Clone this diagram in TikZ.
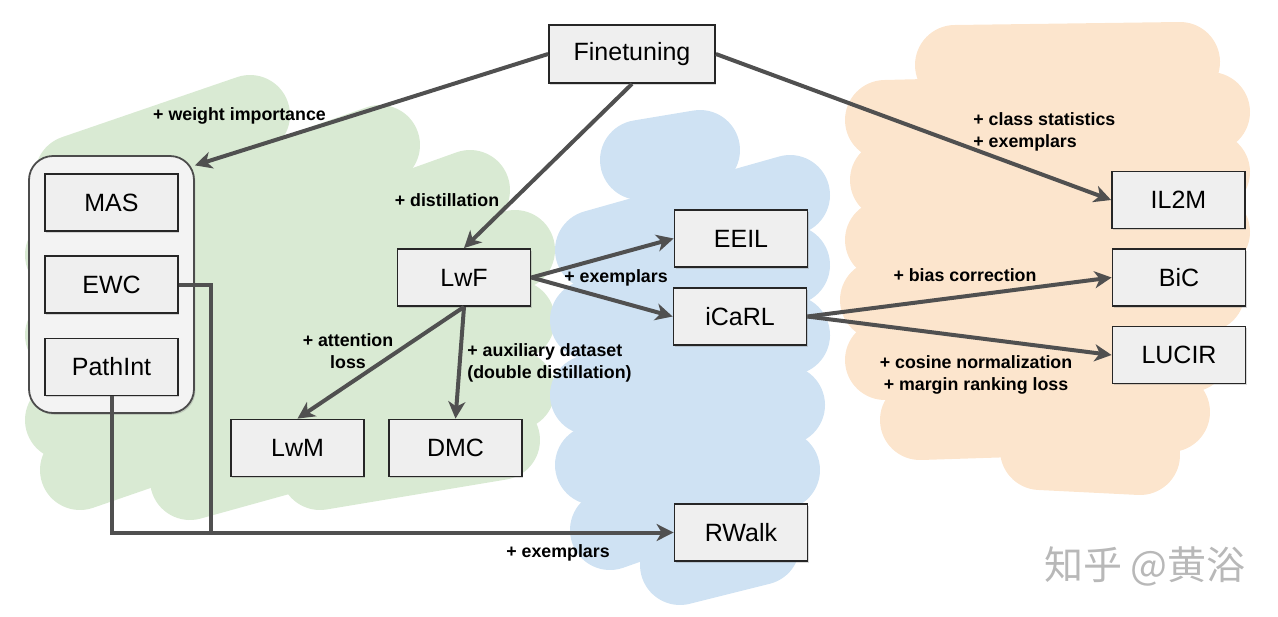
\documentclass[tikz,border=0pt]{standalone}
\usepackage{fontspec}
\setmainfont{Liberation Sans}
\newfontfamily\cjkfont{Noto Sans CJK SC}
\usetikzlibrary{arrows.meta,shadows}
\definecolor{boxfill}{HTML}{EFEFEF}
\definecolor{grpfill}{HTML}{F3F3F3}
\definecolor{arrgray}{HTML}{505050}
\definecolor{blobgreen}{HTML}{D9EAD3}
\definecolor{blobblue}{HTML}{CFE2F3}
\definecolor{blobpeach}{HTML}{FCE5CD}
\definecolor{markgray}{HTML}{B8B8B8}
\begin{document}
\begin{tikzpicture}[>={Stealth[length=8.5pt,width=8.5pt,inset=2.5pt]}, x=0.5pt, y=-0.5pt,
  method/.style={draw=black!85, line width=0.9pt, fill=boxfill, minimum width=66.5pt, minimum height=28.5pt,
    inner sep=0pt, font=\fontsize{12.5}{15}\selectfont, drop shadow={shadow xshift=0.7pt, shadow yshift=-0.9pt, opacity=0.3}},
  group/.style={draw=black!70, line width=0.9pt, fill=grpfill, rounded corners=12pt, minimum width=82.5pt, minimum height=128.5pt,
    drop shadow={shadow xshift=0.7pt, shadow yshift=-0.9pt, opacity=0.3}},
  link/.style={draw=arrgray, line width=2pt, ->},
  tag/.style={font=\bfseries\fontsize{8.9}{11}\selectfont, inner sep=0pt},
  stroke/.style={line width=40pt, line cap=round}]
\useasboundingbox (0,0) rectangle (1278,616);
% background scribbles
\draw[stroke, blobgreen] (75,175)--(250,115);
\draw[stroke, blobgreen] (65,255)--(380,145);
\draw[stroke, blobgreen] (65,335)--(470,190);
\draw[stroke, blobgreen] (65,420)--(515,250);
\draw[stroke, blobgreen] (80,470)--(515,320);
\draw[stroke, blobgreen] (190,480)--(515,390);
\draw[stroke, blobgreen] (320,470)--(500,440);
\draw[stroke, blobblue] (640,160)--(700,150);
\draw[stroke, blobblue] (595,250)--(790,195);
\draw[stroke, blobblue] (590,320)--(790,265);
\draw[stroke, blobblue] (590,395)--(790,335);
\draw[stroke, blobblue] (595,465)--(785,405);
\draw[stroke, blobblue] (610,530)--(780,470);
\draw[stroke, blobblue] (680,565)--(760,545);
\draw[stroke, blobpeach] (955,65)--(1180,62);
\draw[stroke, blobpeach] (885,120)--(1210,112);
\draw[stroke, blobpeach] (890,180)--(1210,172);
\draw[stroke, blobpeach] (885,240)--(1210,232);
\draw[stroke, blobpeach] (880,300)--(1205,292);
\draw[stroke, blobpeach] (885,360)--(1190,352);
\draw[stroke, blobpeach] (920,420)--(1170,412);
\draw[stroke, blobpeach] (1040,450)--(1140,455);
% methods
\node[group] (grp) at (111.5,284.5) {};
\node[method, minimum width=83pt, minimum height=29pt] (ft) at (632,54) {Finetuning};
\node[method] (mas) at (111.5,202.5) {MAS};
\node[method] (ewc) at (111.5,284.5) {EWC};
\node[method] (pathint) at (111.5,367) {PathInt};
\node[method] (lwf) at (464,277.5) {LwF};
\node[method] (eeil) at (741,238.5) {EEIL};
\node[method] (icarl) at (740,316.5) {iCaRL};
\node[method] (lwm) at (297.5,448) {LwM};
\node[method] (dmc) at (455.5,448) {DMC};
\node[method] (rwalk) at (741,532.5) {RWalk};
\node[method] (il2m) at (1178.5,200) {IL2M};
\node[method] (bic) at (1179,277.5) {BiC};
\node[method] (lucir) at (1179,355) {LUCIR};
\coordinate (ewcturn) at (211,532.5);
% connectors
\draw[link] (ft.west)--(grp.55);
\draw[link] (ft.south)--(lwf.north);
\draw[link] (ft.east)--(il2m.west);
\draw[link] (lwf.east)--(eeil.west);
\draw[link] (lwf.east)--(icarl.west);
\draw[link] (lwf.south)--(lwm.north);
\draw[link] (lwf.south)--(dmc.north);
\draw[link] (icarl.east)--(bic.west);
\draw[link] (icarl.east)--(lucir.west);
\draw[link, -] (pathint.south) |- (ewcturn);
\draw[link] (ewc.east) -| (ewcturn)--(rwalk.west);
% labels
\node[tag] (tagweight) at (239.5,116) {+ weight importance};
\node[tag] (tagdist) at (447,200) {+ distillation};
\node[tag] (tagexmid) at (616,278) {+ exemplars};
\node[tag, align=center] (tagatt) at (348,351.5) {+ attention\\loss};
\node[tag, align=left, anchor=west] (tagaux) at (467,363) {+ auxiliary dataset\\(double distillation)};
\node[tag, align=left, anchor=west] (tagstat) at (973,132) {+ class statistics\\+ exemplars};
\node[tag] (tagbias) at (965,275) {+ bias correction};
\node[tag, align=center] (tagcos) at (976,374.5) {+ cosine normalization\\+ margin ranking loss};
\node[tag] (tagexlow) at (558,553) {+ exemplars};
\node[text=markgray, font=\cjkfont\fontsize{19.5}{22}\selectfont, inner sep=0pt] (mark) at (1145,566) {知乎 @黄浴};
\end{tikzpicture}
\end{document}
